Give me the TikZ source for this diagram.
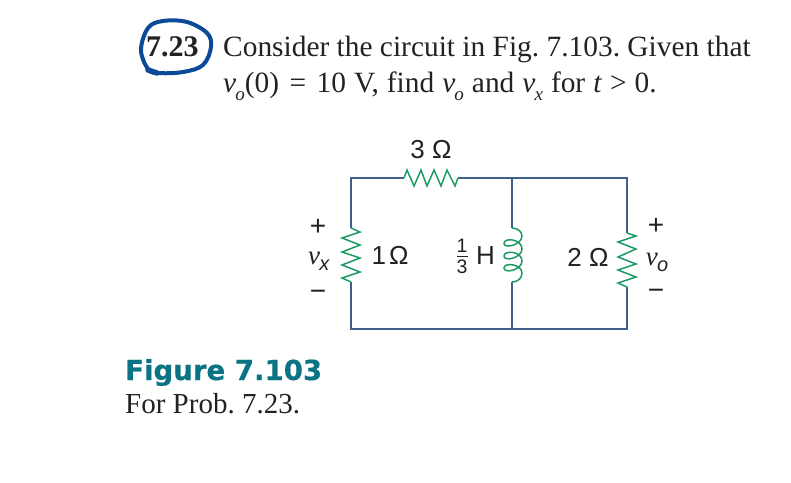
\documentclass[tikz,border=0pt]{standalone}
\usepackage{fontspec}
\setmainfont{Liberation Serif}
\setsansfont{Liberation Sans}
\newfontfamily\figfont[FakeBold=0.5]{DejaVu Sans Bold}
\definecolor{wireblue}{HTML}{3F6189}
\definecolor{resgreen}{HTML}{1B9A62}
\definecolor{penblue}{HTML}{0B4A96}
\definecolor{figteal}{HTML}{0A7485}
\definecolor{inktext}{HTML}{222222}
\frenchspacing
\newcommand{\vsub}[1]{\textit{v}\kern-0.03em\raisebox{-0.28em}{\fontsize{19}{19}\selectfont\textit{#1}}}
\newcommand{\vlab}[1]{\textit{v}\kern-0.03em\raisebox{-0.25em}{\fontsize{20}{20}\selectfont\sffamily\textit{#1}}}
\tikzset{
  wire/.style={draw=wireblue,line width=1.2pt},
  zig/.style={draw=resgreen,line width=1.5pt,line join=miter},
  bodytext/.style={anchor=base west,inner sep=0pt,text=inktext,font=\fontsize{29.4}{29.4}\selectfont},
  partlabel/.style={anchor=base,inner sep=0pt,text=inktext,font=\sffamily\fontsize{26}{26}\selectfont},
  signlabel/.style={inner sep=0pt,text=inktext,font=\sffamily\fontsize{28}{28}\selectfont},
  fraclabel/.style={inner sep=0pt,text=inktext,font=\sffamily\fontsize{19.5}{19.5}\selectfont},
  vlabel/.style={inner sep=0pt,anchor=base,text=inktext,font=\fontsize{27}{27}\selectfont},
}
\begin{document}
\begin{tikzpicture}[x=1pt,y=-1pt]
  \useasboundingbox (0,0) rectangle (791,482);
  % problem text
  \draw[draw=penblue,line width=4pt,line join=round]
    plot[smooth cycle,tension=0.6] coordinates {(148,69) (141,50) (148,28) (163,21) (187,22) (207,33) (211,47) (203,65) (183,72) (158,73)};
  \draw[draw=penblue,line width=5.5pt,line cap=round] (148,70) -- (157,73);
  \node[bodytext,font=\bfseries\fontsize{30}{30}\selectfont] (num) at (146,56) {7.23};
  \node[bodytext] (line1) at (223,56) {Consider the circuit in Fig. 7.103. Given that};
  \node[bodytext] (line2) at (223,92) {\spaceskip=8pt\vsub{o}(0)\kern2.5pt{} =\kern2.5pt{} 10 V, find \vsub{o} and \vsub{x} for \textit{t} > 0.};
  % corners and junctions
  \coordinate (tl) at (351,178);
  \coordinate (tm) at (512,178);
  \coordinate (tr) at (627,178);
  \coordinate (bl) at (351,329);
  \coordinate (bm) at (512,329);
  \coordinate (br) at (627,329);
  \coordinate (r3a) at (404,178);
  \coordinate (r3b) at (458,178);
  \coordinate (r1a) at (351,228);
  \coordinate (r1b) at (351,282);
  \coordinate (la) at (512,228);
  \coordinate (lb) at (512,282);
  \coordinate (r2a) at (627,233);
  \coordinate (r2b) at (627,287);
  % wires
  \draw[wire] (r1a) -- (tl) -- (r3a);
  \draw[wire] (r3b) -- (tr) -- (r2a);
  \draw[wire] (tm) -- (la);
  \draw[wire] (lb) -- (bm);
  \draw[wire] (r1b) -- (bl) -- (br) -- (r2b);
  % resistors
  \draw[zig] (r3a) -- (407,170) -- (414,186) -- (421,170) -- (427,186) -- (434,170) -- (441,186) -- (447,170) -- (455,186) -- (r3b);
  \draw[zig] (r1a) -- (360,232) -- (342,238) -- (360,245) -- (342,252) -- (360,258) -- (342,265) -- (360,272) -- (342,278) -- (r1b);
  \draw[zig] (r2a) -- (636,236) -- (618,242) -- (636,249) -- (618,257) -- (636,264) -- (618,270) -- (636,277) -- (618,283) -- (r2b);
  % inductor
  \draw[zig] (la) .. controls (518,228) and (522,232) .. (522,236)
    .. controls (522,245) and (504,249) .. (504,243.5)
    .. controls (504,237) and (522,239) .. (522,249)
    .. controls (522,258) and (504,262) .. (504,256)
    .. controls (504,250) and (522,251) .. (522,261)
    .. controls (522,270) and (504,274) .. (504,268)
    .. controls (504,262) and (522,264) .. (522,273)
    .. controls (522,278) and (518,282) .. (lb);
  % labels
  \node[partlabel] (l3) at (431,158) {3 Ω};
  \node[partlabel] (l1) at (390,264) {1\kern3pt{}Ω};
  \node[partlabel] (l2) at (588,266) {2 Ω};
  \node[partlabel,anchor=base west] (lh) at (476,264) {H};
  \node[fraclabel] (lf1) at (462,245.5) {1};
  \node[fraclabel] (lf3) at (462,266.5) {3};
  \draw[draw=inktext,line width=0.9pt] (457,256) -- (468,256);
  \node[signlabel] (px) at (318,227) {+};
  \node[vlabel] (vx) at (319,264) {\vlab{x}};
  \node[signlabel] (mx) at (318,295) {−};
  \node[signlabel] (po) at (656,226) {+};
  \node[vlabel] (vo) at (657,265) {\vlab{o}};
  \node[signlabel] (mo) at (656,294) {−};
  % caption
  \node[anchor=base west,inner sep=0pt,text=figteal,font=\figfont\fontsize{27.6}{27.6}\selectfont] (figname) at (125,380) {Figure 7.103};
  \node[anchor=base west,inner sep=0pt,text=inktext,font=\fontsize{29}{29}\selectfont] (figcap) at (125,413) {For Prob. 7.23.};
\end{tikzpicture}
\end{document}
